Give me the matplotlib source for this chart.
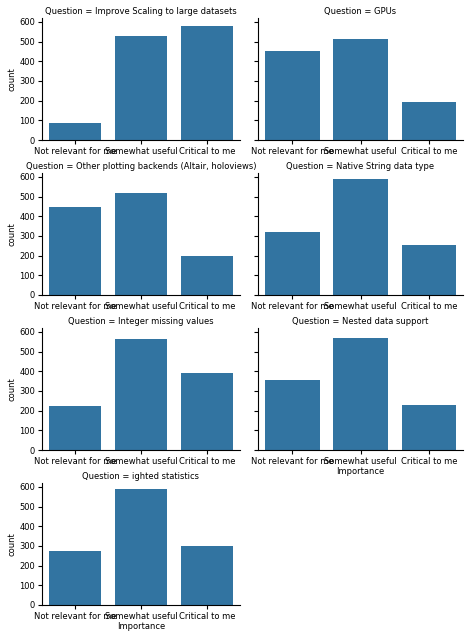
import matplotlib
matplotlib.use("Agg")
import matplotlib.pyplot as plt

categories = ["Not relevant for me", "Somewhat useful", "Critical to me"]
questions = ["Improve Scaling to large datasets", "GPUs",
             "Other plotting backends (Altair, holoviews)", "Native String data type",
             "Integer missing values", "Nested data support", "ighted statistics"]
counts = [
    [85, 530, 578],
    [450, 515, 193],
    [447, 517, 200],
    [318, 592, 255],
    [222, 562, 390],
    [355, 570, 230],
    [272, 590, 300],
]

W, H = 474, 633
fs = 6.0
fig = plt.figure(figsize=(W/100, H/100), dpi=100)
lefts = [42, 258]
widths = [198, 205]
tops = [18, 173, 328, 483]
h = 122
for i, (q, vals) in enumerate(zip(questions, counts)):
    r, c = divmod(i, 2)
    ax = fig.add_axes([lefts[c]/W, 1-(tops[r]+h)/H, widths[c]/W, h/H])
    ax.bar(range(3), vals, width=0.8, color="#3274a1")
    ax.set_xticks(range(3))
    ax.set_xticklabels(categories, fontsize=fs)
    ax.set_xlim(-0.5, 2.5)
    ax.set_ylim(0, 620)
    ax.set_yticks([0, 100, 200, 300, 400, 500, 600])
    ax.tick_params(labelsize=fs, length=3, pad=2)
    ax.set_title(f"Question = {q}", fontsize=fs, pad=3)
    for s in ["top", "right"]:
        ax.spines[s].set_visible(False)
    if c == 0:
        ax.set_ylabel("count", fontsize=fs, labelpad=2)
    else:
        ax.set_yticklabels([])
    if i >= 5:
        ax.set_xlabel("Importance", fontsize=fs, labelpad=1)
fig.savefig("out.png", dpi=100)
